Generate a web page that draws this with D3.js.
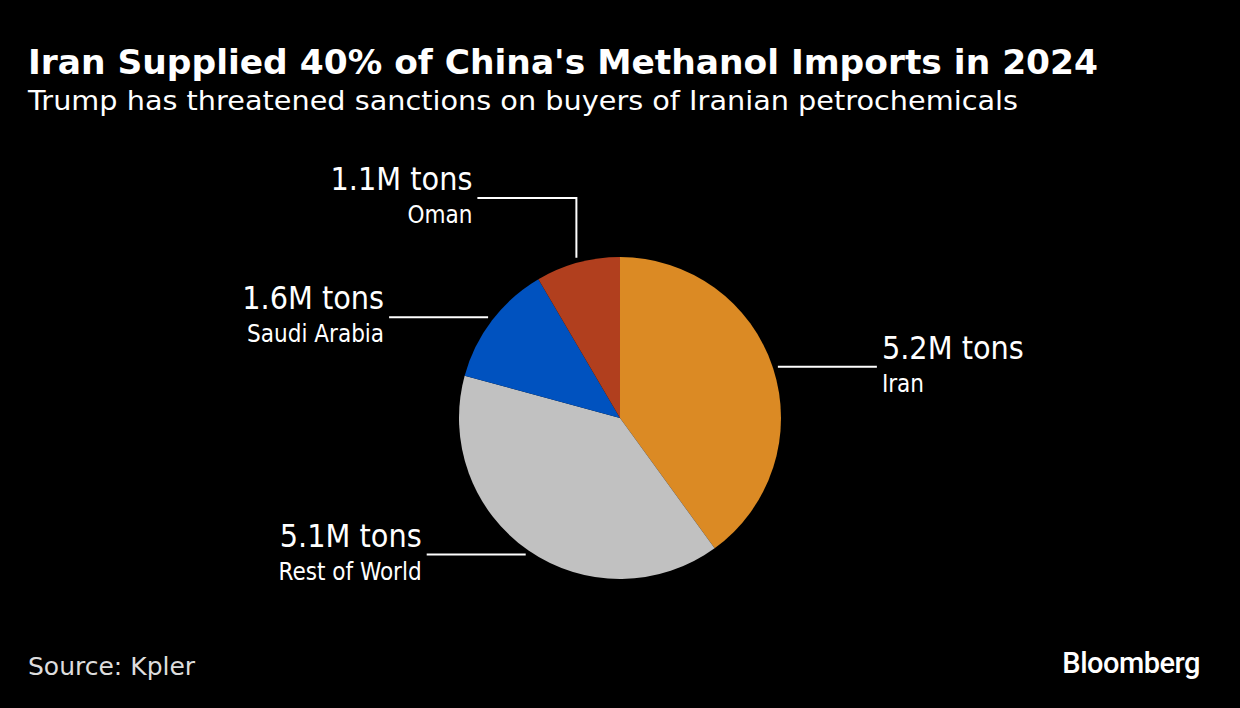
<!DOCTYPE html>
<html>
<head>
<meta charset="utf-8">
<script src="https://cdn.jsdelivr.net/npm/d3@7"></script>
<style>
  body { margin: 0; background: #000; }
  svg { display: block; }
</style>
</head>
<body>
<script>
var width = 1240, height = 708;

// data
var names = ["Iran", "Rest of World", "Saudi Arabia", "Oman"];
var values = [5.2, 5.1, 1.6, 1.1];
var labels = ["5.2M tons", "5.1M tons", "1.6M tons", "1.1M tons"];
var colors = ["#db8a24", "#c1c1c1", "#0052bf", "#b13f1e"];

var svg = d3.select("body").append("svg")
    .attr("width", width).attr("height", height)
    .style("background", "#000");

svg.append("text")
    .attr("x", 28).attr("y", 74)
    .attr("fill", "#fff")
    .attr("textLength", 1070)
    .attr("lengthAdjust", "spacingAndGlyphs")
    .style("font-family", "DejaVu Sans")
    .style("font-weight", "bold")
    .style("font-size", "33px")
    .text("Iran Supplied 40% of China's Methanol Imports in 2024");

svg.append("text")
    .attr("x", 28).attr("y", 110)
    .attr("fill", "#fff")
    .attr("textLength", 990)
    .attr("lengthAdjust", "spacingAndGlyphs")
    .style("font-family", "DejaVu Sans")
    .style("font-size", "27px")
    .text("Trump has threatened sanctions on buyers of Iranian petrochemicals");

/** pie **/
var cx = 620, cy = 418, r = 161;
var data = names.map((n, i) => ({ name: n, value: values[i], label: labels[i], color: colors[i] }));

var pie = d3.pie().sort(null).value(d => d.value);
var arc = d3.arc().innerRadius(0).outerRadius(r);
var arcs = pie(data);

var g = svg.append("g").attr("transform", "translate(" + cx + "," + cy + ")");
g.selectAll("path")
    .data(arcs)
    .enter().append("path")
    .attr("d", arc)
    .attr("fill", d => d.data.color);

// leader lines + labels
var lineLen = 99;
arcs.forEach(a => {
    var mid = (a.startAngle + a.endAngle) / 2;
    var x0 = cx + (r + 5) * Math.sin(mid);
    var y0 = cy - (r + 5) * Math.cos(mid);
    var right = Math.sin(mid) > 0;
    var pts, tx, ty;
    if (a.data.name == "Oman") {
        var ey = 198;
        pts = [[x0, y0], [x0, ey], [x0 - lineLen, ey]];
        tx = x0 - lineLen - 5; ty = ey;
    } else if (right) {
        pts = [[x0, y0], [x0 + lineLen, y0]];
        tx = x0 + lineLen + 5; ty = y0;
    } else {
        pts = [[x0, y0], [x0 - lineLen, y0]];
        tx = x0 - lineLen - 5; ty = y0;
    }
    svg.append("path")
        .attr("d", d3.line()(pts))
        .attr("fill", "none")
        .attr("stroke", "#fff")
        .attr("stroke-width", 2);

    var anchor = right ? "start" : "end";
    svg.append("text")
        .attr("x", tx).attr("y", ty - 8)
        .attr("text-anchor", anchor)
        .attr("fill", "#fff")
        .style("font-family", "DejaVu Sans Condensed")
        .style("font-size", "32px")
        .text(a.data.label);
    svg.append("text")
        .attr("x", tx).attr("y", ty + 25)
        .attr("text-anchor", anchor)
        .attr("fill", "#fff")
        .style("font-family", "DejaVu Sans Condensed")
        .style("font-size", "24px")
        .text(a.data.name);
});

svg.append("text")
    .attr("x", 28).attr("y", 675)
    .attr("fill", "#ddd")
    .style("font-family", "DejaVu Sans")
    .style("font-size", "25px")
    .text("Source: Kpler");

svg.append("text")
    .attr("x", 1200).attr("y", 673)
    .attr("text-anchor", "end")
    .attr("fill", "#fff")
    .style("font-family", "Roboto")
    .style("font-weight", "500")
    .style("font-size", "29px")
    .style("letter-spacing", "-0.5px")
    .text("Bloomberg");
</script>
</body>
</html>
